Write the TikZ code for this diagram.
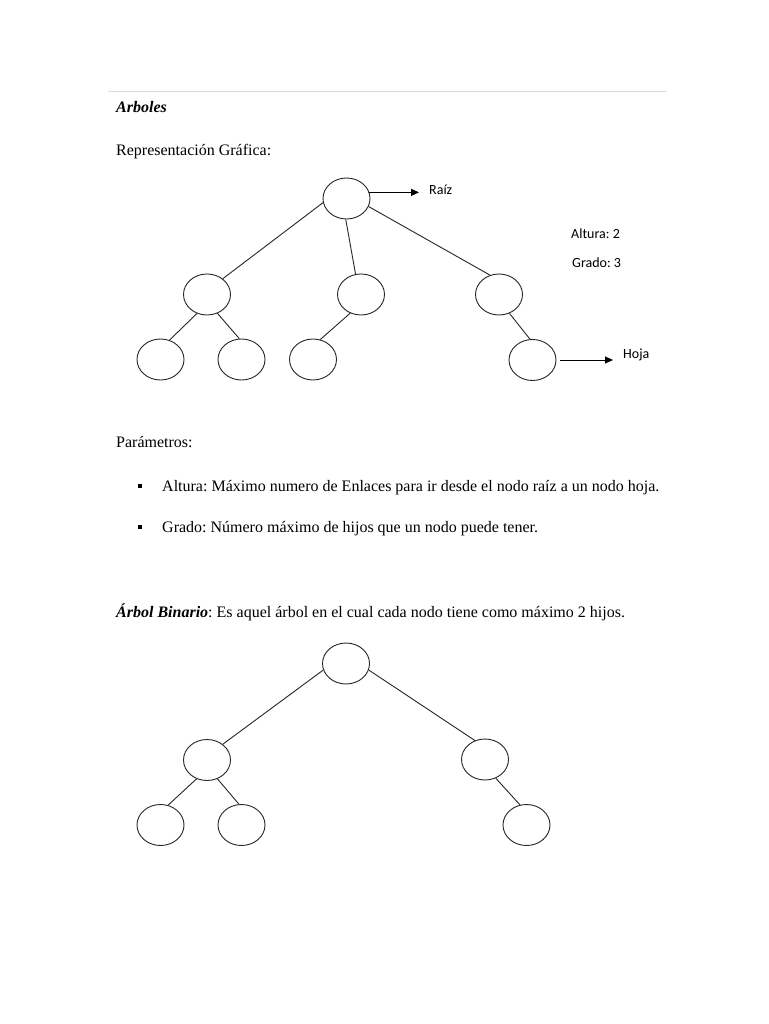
\documentclass[tikz,border=0pt]{standalone}
\usepackage{fontspec}
\setmainfont{Liberation Serif}
\newfontfamily\calibri{Carlito}
\usetikzlibrary{shapes.geometric,arrows.meta}
\frenchspacing
\begin{document}
\begin{tikzpicture}[x=1pt,y=-1pt,
  nd/.style={ellipse, draw=black!85, line width=0.9pt, minimum width=47pt, minimum height=41pt, inner sep=0pt},
  edge/.style={draw=black!85, line width=0.9pt},
  arr/.style={draw=black, line width=0.9pt, -{Triangle[length=8pt,width=7pt]}},
  body/.style={anchor=base west, inner sep=0pt, font=\fontsize{16}{19}\selectfont},
  lbl/.style={anchor=west, inner sep=0pt, font=\calibri\fontsize{14}{17}\selectfont},
  bul/.style={rectangle, fill=black, minimum size=4.5pt, inner sep=0pt}]
\useasboundingbox (0,0) rectangle (768,1024);
\fill[white] (0,0) rectangle (768,1024);
% top rule
\coordinate (ruleL) at (108,91);
\coordinate (ruleR) at (666,91);
\draw[black!15, line width=0.8pt] (ruleL) -- (ruleR);
% texts
\node[body] (tit) at (116,113) {\textbf{\textit{Arboles}}};
\node[body] (rep) at (116,156) {Representación Gráfica:};
% tree 1
\node[nd] (r1) at (346.5,198.5) {};
\node[nd] (a1) at (207,294.5) {};
\node[nd] (b1) at (361,294.5) {};
\node[nd] (c1) at (499,294.5) {};
\node[nd] (l1) at (160.5,359.5) {};
\node[nd] (l2) at (241.5,359.5) {};
\node[nd] (l3) at (313,359.5) {};
\node[nd] (l4) at (532.5,360) {};
\draw[edge] (r1.190) -- (a1.45);
\draw[edge] (r1.268) -- (b1.105);
\draw[edge] (r1.340) -- (c1.115);
\draw[edge] (a1.242) -- (l1.65);
\draw[edge] (a1.299) -- (l2.96);
\draw[edge] (b1.240) -- (l3.70);
\draw[edge] (c1.299) -- (l4.97);
\node[lbl] (raiz) at (429,190) {Raíz};
\node[lbl] (hoja) at (623,355) {Hoja};
\draw[arr, shorten >=10pt] (r1.15) -- (r1.15 -| raiz.west);
\draw[arr, shorten <=4pt, shorten >=10pt] (l4.east) -- (l4.east -| hoja.west);
\node[lbl] (alt) at (571,234) {Altura: 2};
\node[lbl] (gra) at (572,263) {Grado: 3};
% parameters
\node[body] (par) at (116,447) {Parámetros:};
\node[bul] (bu1) at (140,486) {};
\node[bul] (bu2) at (140,527) {};
\node[body] (t1) at (162,491) {Altura: Máximo numero de Enlaces para ir desde el nodo raíz a un nodo hoja.};
\node[body] (t2) at (162,532) {Grado: Número máximo de hijos que un nodo puede tener.};
\node[body] (bin) at (116,617) {\textbf{\textit{Árbol Binario}}: Es aquel árbol en el cual cada nodo tiene como máximo 2 hijos.};
% tree 2
\node[nd] (r2) at (346,663.5) {};
\node[nd] (a2) at (207,760) {};
\node[nd] (c2) at (485,759.5) {};
\node[nd] (m1) at (160.5,825) {};
\node[nd] (m2) at (241.5,825) {};
\node[nd] (m3) at (526.5,825) {};
\draw[edge] (r2.196) -- (a2.45);
\draw[edge] (r2.344) -- (c2.118);
\draw[edge] (a2.241) -- (m1.69);
\draw[edge] (a2.299) -- (m2.97);
\draw[edge] (c2.300) -- (m3.108);
\end{tikzpicture}
\end{document}
